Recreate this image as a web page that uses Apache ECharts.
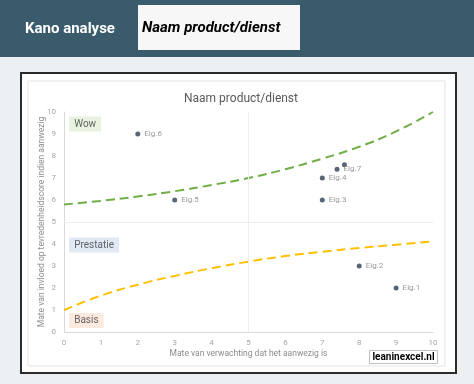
<!DOCTYPE html>
<html><head><meta charset="utf-8">
<script src="https://cdn.jsdelivr.net/npm/echarts@6/dist/echarts.min.js"></script>
<style>html,body{margin:0;padding:0;background:#edf0f3;}#c{width:474px;height:384px;}</style>
</head><body><div id="c"></div>
<script>
// ---- data ----
const pointNames = ['Eig.1','Eig.2','Eig.3','Eig.4','Eig.5','Eig.6','Eig.7',''];
const pointX = [9, 8, 7, 7, 3, 2, 7.4, 7.6];
const pointY = [2, 3, 6, 7, 6, 9, 7.4, 7.6];
const curveX = [0,1,2,3,4,5,6,7,8,9,10];
const wowCurve = [5.8,5.96,6.16,6.4,6.68,7.0,7.4,7.88,8.42,9.12,10.0];
const basisCurve = [1.0,1.65,2.15,2.55,2.9,3.2,3.45,3.65,3.82,3.97,4.12];
const zoneNames = ['Wow','Prestatie','Basis'];
const zoneX = [0.14, 0.14, 0.14];
const zoneY = [9.45, 3.95, 0.52];
const zoneColors = ['#e2efda','#dae3f3','#fbe5d6'];
const axisTicks = [0,1,2,3,4,5,6,7,8,9,10];

const FONT = 'Roboto, "Noto Sans", sans-serif';
const chart = echarts.init(document.getElementById('c'), null, {renderer:'canvas'});
const tickGray = '#a6a6a6';
chart.setOption({
  backgroundColor: '#edf0f3',
  animation: false,
  textStyle: {fontFamily: FONT},
  title: {text: 'Naam product/dienst', left: 236, top: 88, textAlign: 'center',
    textStyle: {fontSize: 12, fontWeight: 'normal', color: '#595959', fontFamily: FONT}},
  graphic: [
    {type:'rect', shape:{x:0,y:0,width:474,height:57}, style:{fill:'#3a5b6c'}, z:-10},
    {type:'text', x:25, y:29, style:{text:'Kano analyse', fill:'#ffffff', font:'bold 15px '+FONT, textVerticalAlign:'middle'}, z:-9},
    {type:'rect', shape:{x:138,y:5,width:162,height:45}, style:{fill:'#f7f7f7'}, z:-9},
    {type:'text', x:142, y:28, style:{text:'Naam product/dienst', fill:'#000000', font:'italic bold 15px '+FONT, textVerticalAlign:'middle'}, z:-8},
    {type:'rect', shape:{x:21,y:73,width:435,height:300}, style:{fill:'#ffffff', stroke:'#2b2b2b', lineWidth:2}, z:-10},
    {type:'rect', shape:{x:28,y:81,width:417,height:285}, style:{fill:'#ffffff', stroke:'#e3e3e3', lineWidth:1}, z:-9},
    {type:'rect', shape:{x:369.5,y:350.5,width:68,height:13}, style:{fill:'#ffffff', stroke:'#bfbfbf', lineWidth:1}, z:-8},
    {type:'text', x:403.5, y:357, style:{text:'leaninexcel.nl', fill:'#000000', font:'bold 10px '+FONT, textAlign:'center', textVerticalAlign:'middle'}, z:-7}
  ],
  grid: {left:64, right:41, top:112, bottom:52},
  xAxis: {type:'value', min:axisTicks[0], max:axisTicks[axisTicks.length-1], interval:1,
    name:'Mate van verwachting dat het aanwezig is', nameLocation:'middle', nameGap:17, nameMoveOverlap:false,
    nameTextStyle:{fontSize:8.5, color:'#8c8c8c'},
    axisLine:{lineStyle:{color:'#d9d9d9'}}, axisTick:{show:false},
    axisLabel:{fontSize:8, color:tickGray, margin:7}, splitLine:{show:false}},
  yAxis: {type:'value', min:axisTicks[0], max:axisTicks[axisTicks.length-1], interval:1,
    name:'Mate van invloed op tevredenheidscore indien aanwezig', nameLocation:'middle', nameGap:18, nameMoveOverlap:false,
    nameTextStyle:{fontSize:8.5, color:'#8c8c8c'},
    axisLine:{show:true, lineStyle:{color:'#d9d9d9'}}, axisTick:{show:false},
    axisLabel:{fontSize:8, color:tickGray, margin:8}, splitLine:{show:false}},
  series: [
    {type:'line', data: curveX.map((x,i)=>[x, wowCurve[i]]), smooth:true, showSymbol:false,
      lineStyle:{color:'#70ad47', width:2, type:[9,5]}, z:3, silent:true},
    {type:'line', data: curveX.map((x,i)=>[x, basisCurve[i]]), smooth:true, showSymbol:false,
      lineStyle:{color:'#ffc000', width:2, type:[9,5]}, z:3, silent:true},
    {type:'scatter', data: pointX.map((x,i)=>({value:[x, pointY[i]], name:pointNames[i]})),
      symbolSize:5, itemStyle:{color:'#2e3f52'}, z:5,
      label:{show:true, position:'right', distance:4, formatter: p => p.name, fontSize:8, color:'#7f7f7f'},
      markLine:{silent:true, symbol:'none', label:{show:false}, lineStyle:{color:'#ececec', width:1, type:'solid'},
        data:[{xAxis:5},{yAxis:5}]}},
    {type:'scatter', data: zoneNames.map((n,i)=>({value:[zoneX[i], zoneY[i]], name:n,
        label:{backgroundColor: zoneColors[i]}})),
      symbolSize:0, z:4, silent:true,
      label:{show:true, position:'right', distance:0, formatter: p => p.name, fontSize:10, color:'#404040',
        padding:[3,5,2,5]}}
  ]
});
</script></body></html>
